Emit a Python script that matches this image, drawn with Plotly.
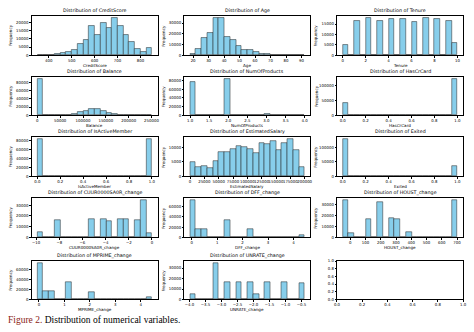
import numpy as np
import plotly.graph_objects as go

W, H = 474, 332

# ---- histogram data: 20 equal-width bins spanning (lo, hi) for each variable ----
credit_score_range = (350, 850)
credit_score_counts = [50, 150, 400, 700, 1200, 1900, 3600, 7000, 9300, 17800,
                       12600, 19800, 16600, 23000, 18300, 12700, 8200, 4000, 2300, 4300]

age_range = (18, 92)
age_counts = [1500, 6000, 16000, 21000, 35000, 35000, 17000, 14000, 8500, 5000,
              5200, 3000, 1500, 900, 600, 300, 150, 80, 40, 20]

tenure_range = (0, 10)
tenure_counts = [5000, 0, 16800, 0, 18100, 0, 16700, 0, 17600, 0,
                 17400, 0, 16000, 0, 17900, 0, 17700, 0, 16800, 6000]

balance_range = (0, 250898)
balance_counts = [89600, 20, 50, 100, 300, 1000, 3500, 7500, 11500, 15500,
                  14500, 10000, 5500, 2500, 800, 250, 80, 30, 10, 5]

products_range = (1, 4)
products_counts = [77374, 0, 0, 0, 0, 0, 84291, 0, 0, 0,
                   0, 0, 0, 2894, 0, 0, 0, 0, 0, 475]

crcard_range = (0, 1)
crcard_counts = [40606] + [0] * 18 + [124428]

active_range = (0, 1)
active_counts = [82885] + [0] * 18 + [82149]

salary_range = (11.58, 199992.48)
salary_counts = [5000, 3200, 3700, 2900, 5300, 8400, 8300, 9400, 10500, 10100,
                 9400, 7900, 11500, 11100, 12300, 9200, 11400, 12900, 9200, 3400]

exited_range = (0, 1)
exited_counts = [130113] + [0] * 18 + [34921]

cuur_range = (-9.9, 0.0)
cuur_counts = [5000, 0, 0, 16500, 0, 0, 0, 0, 0, 17000,
               0, 17300, 15500, 0, 17000, 17000, 0, 16200, 35000, 4500]

dff_range = (-0.065, 4.44)
dff_counts = [73000, 16000, 17000, 0, 0, 0, 34500, 0, 0, 0,
              15500, 0, 0, 0, 0, 0, 0, 0, 0, 5000]

houst_range = (-50, 702)
houst_counts = [34500, 4500, 0, 0, 16500, 0, 33000, 0, 17500, 17200,
                0, 5200, 0, 0, 0, 0, 0, 0, 0, 34000]

mprime_range = (-0.065, 4.44)
mprime_counts = [73000, 16000, 17000, 0, 0, 34500, 0, 0, 0, 15500,
                 0, 0, 0, 0, 0, 0, 0, 0, 0, 5000]

unrate_range = (-3.98, -0.4)
unrate_counts = [5500, 0, 0, 0, 35000, 0, 17000, 0, 17000, 0,
                 17000, 5000, 0, 17000, 0, 0, 17000, 0, 0, 16000]

# name, counts, (lo, hi), x tick values, x tick format, y tick step
panels = [
    ("CreditScore", credit_score_counts, credit_score_range, [400, 500, 600, 700, 800], "d", 5000),
    ("Age", age_counts, age_range, [20, 30, 40, 50, 60, 70, 80, 90], "d", 10000),
    ("Tenure", tenure_counts, tenure_range, [0, 2, 4, 6, 8, 10], "d", 5000),
    ("Balance", balance_counts, balance_range, [0, 50000, 100000, 150000, 200000, 250000], "d", 20000),
    ("NumOfProducts", products_counts, products_range, [1.0, 1.5, 2.0, 2.5, 3.0, 3.5, 4.0], ".1f", 20000),
    ("HasCrCard", crcard_counts, crcard_range, [0, 0.2, 0.4, 0.6, 0.8, 1.0], ".1f", 50000),
    ("IsActiveMember", active_counts, active_range, [0, 0.2, 0.4, 0.6, 0.8, 1.0], ".1f", 20000),
    ("EstimatedSalary", salary_counts, salary_range,
     [0, 25000, 50000, 75000, 100000, 125000, 150000, 175000, 200000], "d", 5000),
    ("Exited", exited_counts, exited_range, [0, 0.2, 0.4, 0.6, 0.8, 1.0], ".1f", 50000),
    ("CUUR0000SA0R_change", cuur_counts, cuur_range, [-10, -8, -6, -4, -2, 0], "d", 10000),
    ("DFF_change", dff_counts, dff_range, [0, 1, 2, 3, 4], "d", 20000),
    ("HOUST_change", houst_counts, houst_range, [0, 100, 200, 300, 400, 500, 600, 700], "d", 10000),
    ("MPRIME_change", mprime_counts, mprime_range, [0, 1, 2, 3, 4], "d", 20000),
    ("UNRATE_change", unrate_counts, unrate_range,
     [-4.0, -3.5, -3.0, -2.5, -2.0, -1.5, -1.0, -0.5], ".1f", 10000),
]

# subplot frames in pixels
col_px = [(29, 157), (184, 312), (339, 467)]
row_px = [(13, 53), (75, 114), (136, 176), (198, 238), (262, 301)]

BAR_FILL = "#87CEEB"
EDGE = "#222222"
FONT = "DejaVu Sans"

fig = go.Figure()
annotations = []

def px_x(v):
    return v / W

def px_y(v):
    return 1 - v / H

axis_common = dict(
    showgrid=False, zeroline=False, showline=True, linecolor="black", linewidth=0.6,
    mirror=True, ticks="outside", ticklen=1.5, tickwidth=0.5, tickcolor="black",
    tickfont=dict(family=FONT, size=3.9, color="black"), tickangle=0,
)

for i in range(15):
    r, c = divmod(i, 3)
    ax = "" if i == 0 else str(i + 1)
    x0, x1 = col_px[c]
    y0, y1 = row_px[r]
    xdom = [px_x(x0), px_x(x1)]
    ydom = [px_y(y1), px_y(y0)]

    if i < len(panels):
        name, counts, (lo, hi), xticks, xfmt, ystep = panels[i]
        edges = np.linspace(lo, hi, 21)
        centers = (edges[:-1] + edges[1:]) / 2
        width = edges[1] - edges[0]
        fig.add_trace(go.Bar(
            x=centers, y=counts, width=width,
            marker=dict(color=BAR_FILL, line=dict(color=EDGE, width=0.5)),
            xaxis="x" + ax, yaxis="y" + ax, showlegend=False, hoverinfo="skip",
        ))
        span = hi - lo
        xrange = [lo - 0.05 * span, hi + 0.05 * span]
        yrange = [0, max(counts) * 1.05]
        xaxis = dict(axis_common, domain=xdom, anchor="y" + ax, range=xrange,
                     tickmode="array", tickvals=xticks, tickformat=xfmt)
        yaxis = dict(axis_common, domain=ydom, anchor="x" + ax, range=yrange,
                     tickmode="linear", tick0=0, dtick=ystep, tickformat="d")
        annotations += [
            dict(text="Distribution of " + name, x=(xdom[0] + xdom[1]) / 2, y=ydom[1],
                 xref="paper", yref="paper", xanchor="center", yanchor="bottom",
                 yshift=0.5, showarrow=False, font=dict(family=FONT, size=4.8, color="black")),
            dict(text=name, x=(xdom[0] + xdom[1]) / 2, y=ydom[0],
                 xref="paper", yref="paper", xanchor="center", yanchor="top",
                 yshift=-5.5, showarrow=False, font=dict(family=FONT, size=4.1, color="black")),
            dict(text="Frequency", x=xdom[0], y=(ydom[0] + ydom[1]) / 2,
                 xref="paper", yref="paper", xanchor="center", yanchor="middle",
                 xshift=-21, textangle=-90, showarrow=False,
                 font=dict(family=FONT, size=4.1, color="black")),
        ]
    else:
        # unused final grid cell: bare unit axes
        fig.add_trace(go.Scatter(x=[], y=[], xaxis="x" + ax, yaxis="y" + ax, showlegend=False))
        xaxis = dict(axis_common, domain=xdom, anchor="y" + ax, range=[0, 1],
                     tickmode="linear", tick0=0, dtick=0.2, tickformat=".1f")
        yaxis = dict(axis_common, domain=ydom, anchor="x" + ax, range=[0, 1],
                     tickmode="linear", tick0=0, dtick=0.2, tickformat=".1f")

    fig.layout["xaxis" + ax] = xaxis
    fig.layout["yaxis" + ax] = yaxis

# caption under the grid
annotations.append(dict(
    text="<span style='color:#8b2316'>Figure 2.</span> Distribution of numerical variables.",
    x=px_x(3), y=px_y(322), xref="paper", yref="paper", xanchor="left", yanchor="middle",
    showarrow=False, font=dict(family="Liberation Serif", size=9.5, color="black"),
))

fig.update_layout(
    width=W, height=H, margin=dict(l=0, r=0, t=0, b=0),
    paper_bgcolor="white", plot_bgcolor="white",
    bargap=0, annotations=annotations,
)

fig.write_html("out.html")
